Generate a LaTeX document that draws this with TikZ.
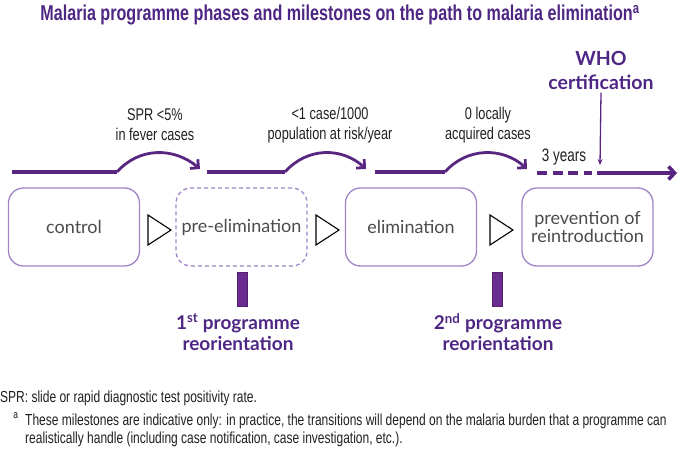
\documentclass[tikz,border=0pt]{standalone}
\usepackage{fontspec}
\setmainfont{Lato}
\newfontfamily\condfont[FakeStretch=0.75]{Liberation Sans}
\usepackage{xcolor}
\usepackage{tikz}
\usetikzlibrary{arrows.meta, positioning}

\definecolor{titlepurple}{RGB}{78,38,131}
\definecolor{linepurple}{RGB}{88,38,128}
\definecolor{boxpurple}{RGB}{160,132,200}
\definecolor{barpurple}{RGB}{108,45,145}
\definecolor{labelblack}{RGB}{35,31,32}
\definecolor{boxgray}{RGB}{75,75,75}

\begin{document}
\begin{tikzpicture}[x=1pt, y=-1pt,
    phase/.style={draw=boxpurple, line width=1.3pt, rounded corners=15pt, minimum width=131pt, minimum height=78pt, align=center, text=boxgray, font=\fontsize{18}{18}\selectfont},
    ms/.style={align=center, text=labelblack, font=\condfont\fontsize{17}{20}\selectfont},
    reo/.style={align=center, text=titlepurple, font=\bfseries\fontsize{19}{21}\selectfont},
    tline/.style={draw=linepurple, line width=3.6pt},
    arr/.style={-{Straight Barb[length=6pt, width=12pt]}, draw=linepurple, line width=2.8pt},
    bar/.style={draw=barpurple!75!black, fill=barpurple, minimum width=10pt, minimum height=34pt, inner sep=0pt},
    tri/.style={draw=black, line width=1.1pt, fill=white, line join=miter},
    note/.style={text=labelblack, font=\condfont\fontsize{16}{18}\selectfont, inner sep=0pt},
]
\useasboundingbox (0,0) rectangle (685,454);

% title
\node[text=titlepurple, font=\condfont\bfseries\fontsize{21.5}{24}\selectfont] (title) at (340,15) {Malaria programme phases and milestones on the path to malaria elimination\textsuperscript{a}};

% phases
\node[phase] (control) at (74,227) {control};
\node[phase, dashed, dash pattern=on 4pt off 3pt] (preelim) at (241.5,227) {pre-elimination};
\node[phase] (elim) at (411,227) {elimination};
\node[phase] (prev) at (587.5,227) {prevention of\\reintroduction};

\foreach \x in {148,316,490}
    \draw[tri] (\x,215) -- ++(23,15) -- ++(-23,15) -- cycle;

% milestones
\node[ms] (spr) at (155,125) {SPR <5\%\\in fever cases};
\node[ms] (case) at (330,125) {<1 case/1000\\population at risk/year};
\node[ms] (zero) at (488,125) {0 locally\\acquired cases};
\node[ms, font=\condfont\fontsize{18}{20}\selectfont] (years) at (564,157) {3 years};
\node[reo, font=\bfseries\fontsize{19.5}{24}\selectfont] (who) at (601,70) {WHO\\certification};

% timeline
\coordinate (c0) at (12,172);  \coordinate (c1) at (117,172); \coordinate (p1) at (200,169);
\coordinate (e0) at (207,172); \coordinate (e1) at (285,172); \coordinate (p2) at (366,169);
\coordinate (l0) at (375,172); \coordinate (l1) at (445,172); \coordinate (p3) at (527,169);
\coordinate (d0) at (537,173); \coordinate (d1) at (592,173);
\coordinate (f0) at (597,173); \coordinate (f1) at (677,173);
\coordinate (whotip) at (600,165);

\draw[tline] (c0) -- (c1);
\draw[arr] (c1) .. controls +(22,-25) and +(-26,-22) .. (p1);
\draw[tline] (e0) -- (e1);
\draw[arr] (e1) .. controls +(22,-25) and +(-24,-22) .. (p2);
\draw[tline] (l0) -- (l1);
\draw[arr] (l1) .. controls +(22,-25) and +(-24,-22) .. (p3);
\draw[tline, dash pattern=on 10pt off 5.5pt] (d0) -- (d1);
\draw[tline, -{Straight Barb[length=6pt, width=13pt]}] (f0) -- (f1);
\draw[linepurple, line width=1.3pt, -{Stealth[length=6pt, width=5pt]}] (who.south) -- (whotip);

% reorientations
\node[bar] (bar1) at (242,289) {};
\node[bar] (bar2) at (497,289) {};
\node[reo] (reo1) at (238,332) {1\textsuperscript{st} programme\\reorientation};
\node[reo] (reo2) at (498,332) {2\textsuperscript{nd} programme\\reorientation};

% notes
\node[note, anchor=west] (sprnote) at (0,398) {SPR: slide or rapid diagnostic test positivity rate.};
\node[note, anchor=north west, align=left] (fnote) at (25,414) {These milestones are indicative only: in practice, the transitions will depend on the malaria burden that a programme can\\realistically handle (including case notification, case investigation, etc.).};
\node[note, anchor=north] (fmark) at (16,412) {\textsuperscript{a}};

\end{tikzpicture}
\end{document}
